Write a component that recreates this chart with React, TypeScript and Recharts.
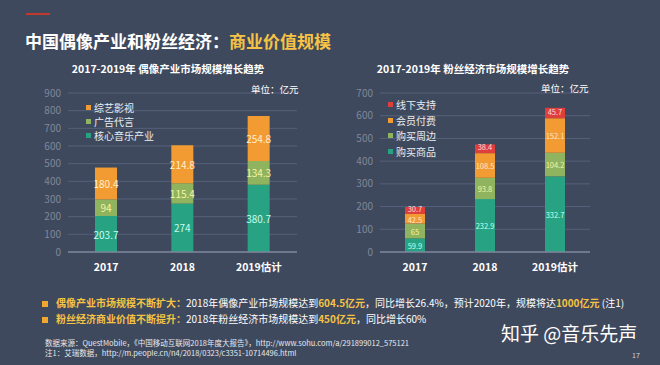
import React from 'react';
import { BarChart, Bar, XAxis, YAxis, CartesianGrid, LabelList } from 'recharts';

const categories = ['2017', '2018', '2019估计'];

// 偶像产业市场规模（亿元）
const idolCore = [203.7, 274, 380.7];
const idolAd = [94, 115.4, 134.3];
const idolVariety = [180.4, 214.8, 254.8];
const idolTicks = [0, 100, 200, 300, 400, 500, 600, 700, 800, 900];

// 粉丝经济市场规模（亿元）
const fanGoods = [59.9, 232.9, 332.7];
const fanMerch = [65, 93.8, 104.2];
const fanMember = [42.5, 108.5, 152.1];
const fanOffline = [30.7, 38.4, 45.7];
const fanTicks = [0, 100, 200, 300, 400, 500, 600, 700];

const idolSeries = [
  { key: 'core', name: '核心音乐产业', values: idolCore, color: '#27a383', label: '#c8fbee', dy: 0 },
  { key: 'ad', name: '广告代言', values: idolAd, color: '#8fb35f', label: '#f7f3a0', dy: 0 },
  { key: 'variety', name: '综艺影视', values: idolVariety, color: '#f29b32', label: '#fff0c8', dy: 0 },
];
const fanSeries = [
  { key: 'goods', name: '购买商品', values: fanGoods, color: '#27a383', label: '#c8fbee', dy: 0 },
  { key: 'merch', name: '购买周边', values: fanMerch, color: '#8fb35f', label: '#f7f3a0', dy: 0 },
  { key: 'member', name: '会员付费', values: fanMember, color: '#f29b32', label: '#ffe7c0', dy: 0.5 },
  { key: 'offline', name: '线下支持', values: fanOffline, color: '#de3f3a', label: '#ffd9d6', dy: -2 },
];

const build = (series: typeof idolSeries) =>
  categories.map((c, i) => {
    const row: Record<string, any> = { cat: c };
    series.forEach((s) => (row[s.key] = s.values[i]));
    return row;
  });

const idolData = build(idolSeries);
const fanData = build(fanSeries);

const BG = '#3f495d';
const FONT = '"Noto Sans CJK SC", "Noto Sans", sans-serif';

const CatTick = (props: any) => {
  const { x, y, payload } = props;
  return (
    <text x={x} y={y + 11} textAnchor="middle" fill="#ffffff" fontSize={10.5} fontWeight={700} fontFamily={FONT}>
      {payload.value}
    </text>
  );
};

const makeLabel = (color: string, size: number, dy: number) => (props: any) => {
  const { x, y, width, height, value } = props;
  return (
    <text
      x={Number(x) + Number(width) / 2}
      y={Number(y) + Number(height) / 2 + dy}
      textAnchor="middle"
      dominantBaseline="central"
      fill={color}
      fontSize={size}
      fontFamily={FONT}
    >
      {value}
    </text>
  );
};

const Chart = ({ data, series, ticks, max, barSize, yWidth, right, labelSize }: any) => (
  <BarChart width={330} height={300} data={data} margin={{ top: 93, right, bottom: 18, left: 0 }}>
    <CartesianGrid vertical={false} stroke="#56617a" strokeWidth={1} />
    <XAxis dataKey="cat" tickLine={false} axisLine={{ stroke: '#7c8699', strokeWidth: 1.5 }} tick={<CatTick />} height={30} interval={0} />
    <YAxis
      domain={[0, max]}
      ticks={ticks}
      interval={0}
      width={yWidth}
      axisLine={false}
      tickLine={false}
      tickSize={0}
      tickMargin={7}
      tick={{ fill: '#7f889a', fontSize: 10, fontFamily: FONT }}
    />
    {series.map((s: any) => (
      <Bar key={s.key} dataKey={s.key} stackId="a" fill={s.color} barSize={barSize} isAnimationActive={false}>
        <LabelList dataKey={s.key} content={makeLabel(s.label, labelSize, s.dy)} />
      </Bar>
    ))}
  </BarChart>
);

const LegendBox = ({ series, left, top, gap }: any) => (
  <div style={{ position: 'absolute', left, top, fontFamily: FONT, fontSize: 10, color: '#e9edf2' }}>
    {[...series].reverse().map((s: any) => (
      <div key={s.key} style={{ display: 'flex', alignItems: 'center', height: gap }}>
        <span style={{ display: 'inline-block', width: 5, height: 5, background: s.color, marginRight: 3 }} />
        {s.name}
      </div>
    ))}
  </div>
);

const Y = { color: '#f6c344', fontWeight: 700 } as const;

export default function App() {
  return (
    <div style={{ position: 'fixed', left: 0, top: 0, width: 660, height: 365, background: BG, overflow: 'hidden', fontFamily: FONT }}>
      <div style={{ position: 'absolute', left: 26, top: 13, width: 24, height: 2, background: '#c0392b' }} />
      <div style={{ position: 'absolute', left: 25, top: 28, fontSize: 17, fontWeight: 700, color: '#ffffff', whiteSpace: 'nowrap' }}>
        中国偶像产业和粉丝经济：<span style={{ color: '#f6c344' }}>商业价值规模</span>
      </div>

      <div style={{ position: 'absolute', left: 0, top: 0 }}>
        <Chart data={idolData} series={idolSeries} ticks={idolTicks} max={900} barSize={22} yWidth={68} right={33} labelSize={10} />
      </div>
      <div style={{ position: 'absolute', left: 330, top: 0 }}>
        <Chart data={fanData} series={fanSeries} ticks={fanTicks} max={700} barSize={20} yWidth={50} right={70} labelSize={7.5} />
      </div>

      <div style={{ position: 'absolute', left: 0, width: 336, top: 61, textAlign: 'center', fontSize: 10.5, fontWeight: 700, color: '#ffffff' }}>
        2017-2019年 偶像产业市场规模增长趋势
      </div>
      <div style={{ position: 'absolute', left: 330, width: 286, top: 61, textAlign: 'center', fontSize: 10.5, fontWeight: 700, color: '#ffffff' }}>
        2017-2019年 粉丝经济市场规模增长趋势
      </div>
      <div style={{ position: 'absolute', left: 251, top: 82, fontSize: 9.5, color: '#ffffff' }}>单位：亿元</div>
      <div style={{ position: 'absolute', left: 541, top: 81, fontSize: 9.5, color: '#ffffff' }}>单位：亿元</div>

      <LegendBox series={idolSeries} left={86} top={100} gap={14} />
      <LegendBox series={fanSeries} left={388} top={97} gap={15.5} />

      <div style={{ position: 'absolute', left: 42, top: 295, fontSize: 10, color: '#ffffff', whiteSpace: 'nowrap', lineHeight: '15px' }}>
        <span style={{ display: 'inline-block', width: 6, height: 6, background: '#f0a830', marginRight: 8, verticalAlign: 'middle' }} />
        <span style={Y}>偶像产业市场规模不断扩大：</span>2018年偶像产业市场规模达到<span style={Y}>604.5亿元</span>，同比增长26.4%，预计2020年，规模将达<span style={Y}>1000亿元</span> (注1)
      </div>
      <div style={{ position: 'absolute', left: 42, top: 311, fontSize: 10, color: '#ffffff', whiteSpace: 'nowrap', lineHeight: '15px' }}>
        <span style={{ display: 'inline-block', width: 6, height: 6, background: '#f0a830', marginRight: 8, verticalAlign: 'middle' }} />
        <span style={Y}>粉丝经济商业价值不断提升：</span>2018年粉丝经济市场规模达到<span style={Y}>450亿元</span>，同比增长60%
      </div>
      <div style={{ position: 'absolute', left: 45, top: 338, fontSize: 7.5, color: '#e6e9ee', whiteSpace: 'nowrap', lineHeight: '9.5px' }}>
        <div>数据来源：QuestMobile，《中国移动互联网2018年度大报告》，http://www.sohu.com/a/291899012_575121</div>
        <div>注1：艾瑞数据，http://m.people.cn/n4/2018/0323/c3351-10714496.html</div>
      </div>
      <div style={{ position: 'absolute', left: 501, top: 319, fontSize: 19, color: '#ffffff', whiteSpace: 'nowrap' }}>知乎 @音乐先声</div>
      <div style={{ position: 'absolute', left: 632, top: 350, fontSize: 7, color: '#d0d5dd' }}>17</div>
    </div>
  );
}
